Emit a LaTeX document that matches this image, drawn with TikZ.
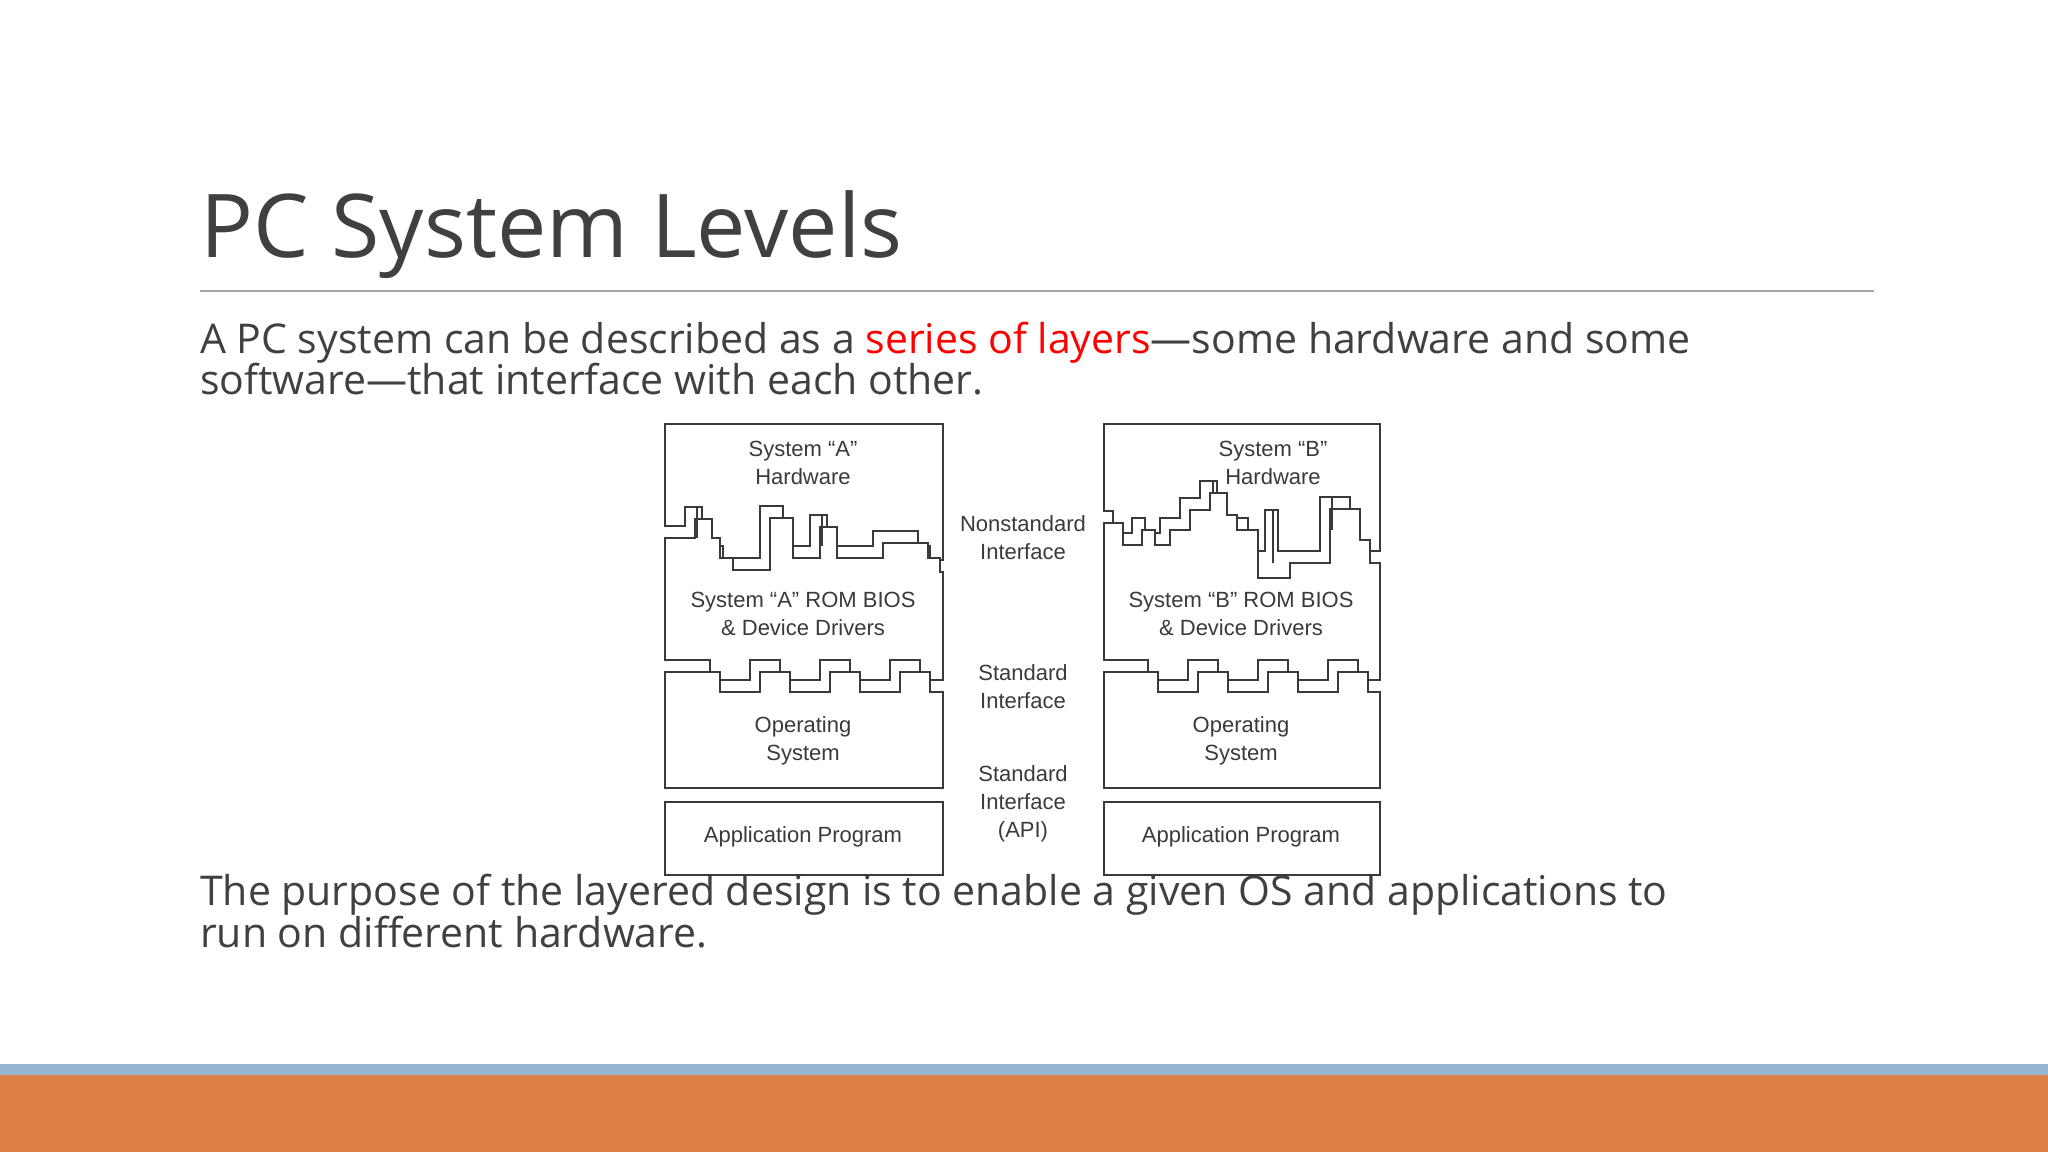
\documentclass[tikz,border=0pt]{standalone}
\usepackage{fontspec}
\setmainfont{Open Sans}
\newfontfamily\diag{Liberation Sans}
\definecolor{txt}{HTML}{404040}
\definecolor{dg}{HTML}{3A3A3A}
\definecolor{barblue}{HTML}{94B6D2}
\definecolor{barorange}{HTML}{DD8047}
\tikzset{
 body/.style={anchor=base west,inner sep=0,text=txt,font=\fontsize{41}{41}\selectfont},
 lbl/.style={align=center,inner sep=0,text=dg,font=\diag\fontsize{22}{28}\selectfont},
 bx/.style={draw=dg,line width=1.8pt,fill=white},
}
\begin{document}
\begin{tikzpicture}[x=1pt,y=-1pt]
\useasboundingbox (0,0) rectangle (2048,1152);
\fill[barblue] (0,1064) rectangle (2048,1075);
\fill[barorange] (0,1075) rectangle (2048,1152);
\node[anchor=base west,inner sep=0,text=txt,font=\fontsize{88}{88}\selectfont] (title) at (200,257) {PC System Levels};
\coordinate (r1) at (200,291); \coordinate (r2) at (1874,291);
\draw[gray!70,line width=1.2pt] (r1) -- (r2);
\node[body] (p1) at (200,353) {A PC system can be described as a \textcolor{red}{series of layers}—some hardware and some};
\node[body] (p2) at (200,394) {software—that interface with each other.};
\node[body] (p3) at (200,905) {The purpose of the layered design is to enable a given OS and applications to};
\node[body] (p4) at (200,947) {run on different hardware.};
% ---- column A
\draw[bx] (665,424) -- (943,424) -- (943,560) -- (930,560) -- (930,546) -- (918,546) -- (918,531) -- (873,531) -- (873,546) -- (827,546) -- (827,515) -- (810,515) -- (810,546) -- (783,546) -- (783,506) -- (760,506) -- (760,558) -- (723,558) -- (723,546) -- (710,546) -- (710,526) -- (702,526) -- (702,507) -- (685,507) -- (685,526) -- (665,526) -- cycle;
\draw[bx] (665,538) -- (695,538) -- (695,519) -- (712,519) -- (712,538) -- (720,538) -- (720,558) -- (733,558) -- (733,570) -- (770,570) -- (770,518) -- (793,518) -- (793,558) -- (820,558) -- (820,527) -- (837,527) -- (837,558) -- (883,558) -- (883,543) -- (928,543) -- (928,558) -- (940,558) -- (940,572) -- (943,572)
 -- (943,680) -- (920,680) -- (920,660) -- (890,660) -- (890,680) -- (850,680) -- (850,660) -- (820,660) -- (820,680) -- (780,680) -- (780,660) -- (750,660) -- (750,680) -- (710,680) -- (710,660) -- (665,660) -- cycle;
\draw[bx] (665,672) -- (720,672) -- (720,692) -- (760,692) -- (760,672) -- (790,672) -- (790,692) -- (830,692) -- (830,672) -- (860,672) -- (860,692) -- (900,692) -- (900,672) -- (930,672) -- (930,692) -- (943,692) -- (943,788) -- (665,788) -- cycle;
% ---- column B
\draw[bx] (1104,424) -- (1380,424) -- (1380,551) -- (1360,551) -- (1360,528) -- (1350,528) -- (1350,497) -- (1320,497) -- (1320,551) -- (1278,551) -- (1278,510) -- (1265,510) -- (1265,551) -- (1248,551) -- (1248,518) -- (1227,518) -- (1227,503) -- (1217,503) -- (1217,481) -- (1200,481) -- (1200,498) -- (1180,498) -- (1180,518) -- (1160,518) -- (1160,533) -- (1145,533) -- (1145,518) -- (1132,518) -- (1132,533) -- (1113,533) -- (1113,511) -- (1104,511) -- cycle;
\draw[bx] (1104,523) -- (1123,523) -- (1123,545) -- (1142,545) -- (1142,530) -- (1155,530) -- (1155,545) -- (1170,545) -- (1170,530) -- (1190,530) -- (1190,510) -- (1210,510) -- (1210,493) -- (1227,493) -- (1227,515) -- (1237,515) -- (1237,530) -- (1258,530) -- (1258,578) -- (1290,578) -- (1290,563) -- (1330,563) -- (1330,509) -- (1360,509) -- (1360,540) -- (1370,540) -- (1370,563) -- (1380,563)
 -- (1380,680) -- (1358,680) -- (1358,660) -- (1328,660) -- (1328,680) -- (1288,680) -- (1288,660) -- (1258,660) -- (1258,680) -- (1218,680) -- (1218,660) -- (1188,660) -- (1188,680) -- (1148,680) -- (1148,660) -- (1104,660) -- cycle;
\draw[bx] (1104,672) -- (1158,672) -- (1158,692) -- (1198,692) -- (1198,672) -- (1228,672) -- (1228,692) -- (1268,692) -- (1268,672) -- (1298,672) -- (1298,692) -- (1338,692) -- (1338,672) -- (1368,672) -- (1368,692) -- (1380,692) -- (1380,788) -- (1104,788) -- cycle;
% pins
\draw[dg,line width=1.5pt] (697,507) -- (697,538) (822,515) -- (822,546) (1213,481) -- (1213,493) (1273,510) -- (1273,563) (1332,497) -- (1332,530);
% app boxes
\draw[bx] (665,802) rectangle (943,875);
\draw[bx] (1104,802) rectangle (1380,875);
% labels
\node[lbl] (ha) at (803,463) {System “A”\\Hardware};
\node[lbl] (hb) at (1273,463) {System “B”\\Hardware};
\node[lbl] (ba) at (803,614) {System “A” ROM BIOS\\\& Device Drivers};
\node[lbl] (bb) at (1241,614) {System “B” ROM BIOS\\\& Device Drivers};
\node[lbl] (oa) at (803,741) {Operating\\System};
\node[lbl] (ob) at (1241,741) {Operating\\System};
\node[lbl] (aa) at (803,837) {Application Program};
\node[lbl] (ab) at (1241,837) {Application Program};
\node[lbl] (ns) at (1023,538) {Nonstandard\\Interface};
\node[lbl] (si) at (1023,687) {Standard\\Interface};
\node[lbl] (api) at (1023,804) {Standard\\Interface\\(API)};
\end{tikzpicture}
\end{document}
